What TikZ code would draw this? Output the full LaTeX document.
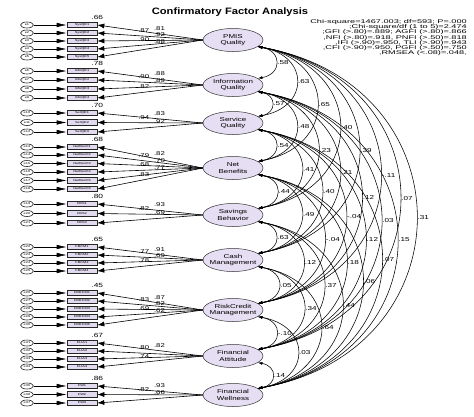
\documentclass[tikz,border=0pt]{standalone}
\usepackage{fontspec}
\setmainfont{Liberation Sans}[FakeStretch=1.4]
\newfontfamily\titlefont{Liberation Sans}[FakeStretch=1.2]
\newfontfamily\statfont{Liberation Sans}[FakeStretch=1.7]
\usetikzlibrary{arrows.meta,shapes.geometric}
\definecolor{latfill}{RGB}{230,222,243}
\definecolor{boxfill}{RGB}{226,218,238}
\newcommand{\zb}[1]{\makebox[0pt]{#1}}
\begin{document}
\begin{tikzpicture}[x=1pt,y=1pt,
  lat/.style={ellipse, draw=black!80, line width=0.5pt, fill=latfill, minimum width=60pt, minimum height=23pt, inner sep=0pt, align=center, font=\fontsize{5.7}{6.7}\selectfont},
  obs/.style={rectangle, draw=black!85, line width=0.6pt, fill=boxfill, minimum width=30pt, minimum height=5.5pt, inner sep=0pt, font=\fontsize{2.8}{3}\selectfont},
  err/.style={ellipse, draw=black!85, line width=0.6pt, fill=white, minimum width=13pt, minimum height=6pt, inner sep=0pt, font=\fontsize{2.8}{3}\selectfont},
  erra/.style={-{Latex[length=10pt,width=4.5pt]}, line width=0.6pt},
  load/.style={-{Latex[length=7pt,width=5pt]}, line width=0.6pt},
  ll/.style={anchor=south, inner sep=0.3pt, yshift=3pt, font=\fontsize{5.6}{5.6}\selectfont},
  cov/.style={{Latex[length=4.5pt,width=3pt]}-{Latex[length=4.5pt,width=3pt]}, line width=0.55pt, out=-10, in=10},
  cl/.style={midway, anchor=west, inner sep=1pt, font=\fontsize{5.8}{6}\selectfont},
  r2/.style={anchor=south, inner sep=0.5pt, yshift=2pt, font=\fontsize{6}{6}\selectfont},
  span1/.style={looseness=2.0}, span2/.style={looseness=1.94}, span3/.style={looseness=1.8},
  span4/.style={looseness=1.76}, span5/.style={looseness=1.7}, span6/.style={looseness=1.66},
  span7/.style={looseness=1.63}, span8/.style={looseness=1.61}]
\useasboundingbox (0,0) rectangle (474,-416);

\node[font=\titlefont\bfseries\fontsize{9.3}{10}\selectfont, inner sep=0pt] (title) at (230,-12) {Confirmatory Factor Analysis};
\node[font=\statfont\fontsize{5.4}{5.3}\selectfont, align=right, anchor=north east, inner sep=0pt] (fit) at (467,-19)
 {Chi-square=1467.003; df=593; P=.000\\;Chi-square/df (1 to 5)=2.474\\;GFI (>.80)=.889; AGFI (>.80)=.866\\,NFI (>.80)=.918, PNFI (>.50)=.818\\,IFI (>.90)=.950, TLI (>.90)=.943\\,CFI (>.90)=.950, PGFI  (>.50)=.750\\,RMSEA  (<.08)=.048,};

\node[lat] (L1) at (233,-40) {\zb{PMIS}\\\zb{Quality}};
\node[lat] (L2) at (233,-85) {\zb{Information}\\\zb{Quality}};
\node[lat] (L3) at (233,-123) {\zb{Service}\\\zb{Quality}};
\node[lat] (L4) at (233,-168) {\zb{Net}\\\zb{Benefits}};
\node[lat] (L5) at (233,-215) {\zb{Savings}\\\zb{Behavior}};
\node[lat] (L6) at (233,-260) {\zb{Cash}\\\zb{Management}};
\node[lat] (L7) at (233,-310) {\zb{RiskCredit}\\\zb{Management}};
\node[lat] (L8) at (233,-356) {\zb{Financial}\\\zb{Attitude}};
\node[lat] (L9) at (233,-395) {\zb{Financial}\\\zb{Wellness}};

\foreach \grp/\num/\yy/\txt/\err/\lab/\ps in {
 1/1/25/SysQE1/e1/.81/.41, 1/2/33/SysQE2/e2/.87/.56, 1/3/41/SysQE3/e3/.92/.41, 1/4/49/SysQE4/e4/.90/.56, 1/5/57/SysQE5/e5/.88/.41,
 2/6/71/InfoQE1/e6/.88/.41, 2/7/80/InfoQE2/e7/.90/.56, 2/8/89/InfoQE3/e8/.89/.41, 2/9/98/InfoQE4/e9/.82/.56,
 3/10/113/SerQE1/e10/.83/.41, 3/11/122.5/SerQE2/e11/.94/.56, 3/12/132/SerQE3/e12/.92/.41,
 4/13/147/NetBen01/e13/.82/.41, 4/14/155/NetBen02/e14/.79/.56, 4/15/163.5/NetBen03/e15/.70/.41, 4/16/172/NetBen04/e16/.68/.56, 4/17/180.5/NetBen05/e17/.77/.41, 4/18/189/NetBen06/e18/.83/.56,
 5/19/204/FBS1/e19/.93/.41, 5/20/213.5/FBS2/e20/.82/.56, 5/21/223/FBS3/e21/.69/.41,
 6/22/247/FBCM1/e22/.91/.41, 6/23/255/FBCM2/e23/.77/.56, 6/24/263/FBCM3/e24/.69/.41, 6/25/271/FBCM4/e25/.78/.56,
 7/26/293/FBRCM1/e26/.87/.41, 7/27/301/FBRCM2/e27/.83/.56, 7/28/309/FBRCM3/e28/.82/.41, 7/29/317/FBRCM4/e29/.69/.56, 7/30/325/FBRCM5/e30/.62/.41,
 8/31/343/FLIA1/e31/.82/.41, 8/32/351/FLIA2/e32/.80/.56, 8/33/359/FLIA3/e33/{}/.41, 8/34/367/FLIA4/e34/.74/.56,
 9/35/386/FW1/e35/.93/.41, 9/36/394.5/FW2/e36/.82/.56, 9/37/403/FW3/e37/.66/.41}
{
  \node[obs] (ob\num) at (82,-\yy) {\txt};
  \node[err] (er\num) at (27,-\yy) {\err};
  \draw[erra] (er\num) -- (ob\num);
  \draw[load] (L\grp.west) -- node[ll,pos=\ps] {\lab} (ob\num.east);
}

\node[r2] (q1) at (ob1.north east) {.66};
\node[r2] (q2) at (ob6.north east) {.78};
\node[r2] (q3) at (ob10.north east) {.70};
\node[r2] (q4) at (ob13.north east) {.68};
\node[r2] (q5) at (ob19.north east) {.80};
\node[r2] (q6) at (ob22.north east) {.65};
\node[r2] (q7) at (ob26.north east) {.45};
\node[r2] (q8) at (ob31.north east) {.67};
\node[r2] (q9) at (ob35.north east) {.86};

% covariances
\draw[cov,span1] (L1.-15) to node[cl]{.58} (L2.15);
\draw[cov,span2] (L1.-15) to node[cl]{.63} (L3.15);
\draw[cov,span3] (L1.-15) to node[cl]{.65} (L4.15);
\draw[cov,span4] (L1.-15) to node[cl]{.40} (L5.15);
\draw[cov,span5] (L1.-15) to node[cl]{.39} (L6.15);
\draw[cov,span6] (L1.-15) to node[cl]{-.11} (L7.15);
\draw[cov,span7] (L1.-15) to node[cl]{.07} (L8.15);
\draw[cov,span8] (L1.-15) to node[cl]{.31} (L9.15);
\draw[cov,span1] (L2.-15) to node[cl]{.57} (L3.15);
\draw[cov,span2] (L2.-15) to node[cl]{.48} (L4.15);
\draw[cov,span3] (L2.-15) to node[cl]{.23} (L5.15);
\draw[cov,span4] (L2.-15) to node[cl]{.21} (L6.15);
\draw[cov,span5] (L2.-15) to node[cl]{.12} (L7.15);
\draw[cov,span6] (L2.-15) to node[cl]{.03} (L8.15);
\draw[cov,span7] (L2.-15) to node[cl]{.15} (L9.15);
\draw[cov,span1] (L3.-15) to node[cl]{.54} (L4.15);
\draw[cov,span2] (L3.-15) to node[cl]{.41} (L5.15);
\draw[cov,span3] (L3.-15) to node[cl]{.40} (L6.15);
\draw[cov,span4] (L3.-15) to node[cl]{-.04} (L7.15);
\draw[cov,span5] (L3.-15) to node[cl]{.12} (L8.15);
\draw[cov,span6] (L3.-15) to node[cl]{.07} (L9.15);
\draw[cov,span1] (L4.-15) to node[cl]{.44} (L5.15);
\draw[cov,span2] (L4.-15) to node[cl]{.49} (L6.15);
\draw[cov,span3] (L4.-15) to node[cl]{-.04} (L7.15);
\draw[cov,span4] (L4.-15) to node[cl]{.18} (L8.15);
\draw[cov,span5] (L4.-15) to node[cl]{.06} (L9.15);
\draw[cov,span1] (L5.-15) to node[cl]{.63} (L6.15);
\draw[cov,span2] (L5.-15) to node[cl]{.12} (L7.15);
\draw[cov,span3] (L5.-15) to node[cl]{.37} (L8.15);
\draw[cov,span4] (L5.-15) to node[cl]{.44} (L9.15);
\draw[cov,span1] (L6.-15) to node[cl]{.05} (L7.15);
\draw[cov,span2] (L6.-15) to node[cl]{.34} (L8.15);
\draw[cov,span3] (L6.-15) to node[cl]{.64} (L9.15);
\draw[cov,span1] (L7.-15) to node[cl]{-.10} (L8.15);
\draw[cov,span2] (L7.-15) to node[cl]{.03} (L9.15);
\draw[cov,span1] (L8.-15) to node[cl]{.14} (L9.15);
\end{tikzpicture}
\end{document}
